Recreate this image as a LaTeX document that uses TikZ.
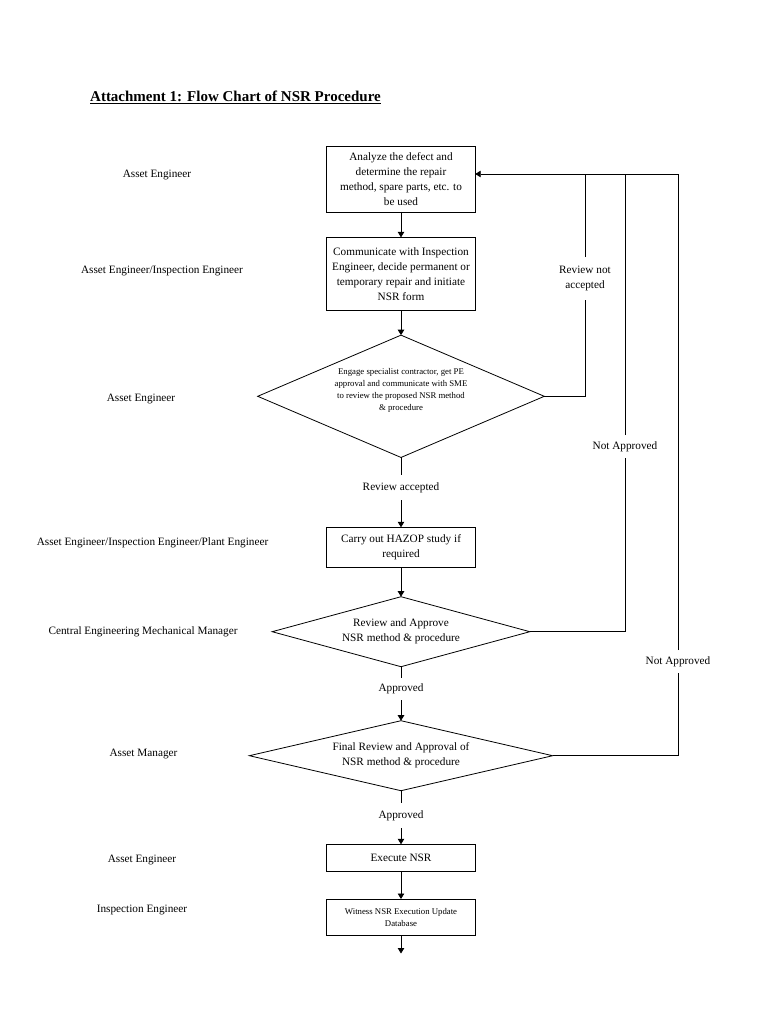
\documentclass[tikz,border=0pt]{standalone}
\usepackage{fontspec}
\setmainfont{Liberation Serif}
\usetikzlibrary{shapes.geometric,arrows.meta}
\begin{document}
\begin{tikzpicture}[x=1pt,y=-1pt,
  every node/.style={inner sep=0pt, outer sep=0pt, font=\fontsize{11.25}{15}\selectfont},
  smalltext/.style={font=\fontsize{8.75}{12}\selectfont},
  procbox/.style={draw, line width=0.8pt, align=center, minimum width=148.4pt},
  decbox/.style={draw, diamond, line width=0.8pt, align=center},
  conn/.style={line width=0.8pt},
  arr/.style={conn, -{Triangle[length=5.5pt,width=6.5pt]}},
  lane/.style={align=center},
  tag/.style={align=center}]
\useasboundingbox (0,0) rectangle (768,1024);

% title
\node[font=\fontsize{15}{18}\selectfont\bfseries, anchor=base] (title) at (235.5,102) {\underline{Attachment 1: Flow Chart of NSR Procedure}};

% lane labels
\node[lane] (l1) at (157,175) {Asset Engineer};
\node[lane] (l2) at (162,271) {Asset Engineer/Inspection Engineer};
\node[lane] (l3) at (141,399) {Asset Engineer};
\node[lane] (l4) at (152.5,543) {Asset Engineer/Inspection Engineer/Plant Engineer};
\node[lane] (l5) at (143,632) {Central Engineering Mechanical Manager};
\node[lane] (l6) at (143.5,754) {Asset Manager};
\node[lane] (l7) at (142,860) {Asset Engineer};
\node[lane] (l8) at (142,910) {Inspection Engineer};

% process steps
\node[procbox, minimum height=66pt] (b1) at (401,179) {Analyze the defect and\\determine the repair\\method, spare parts, etc. to\\be used};
\node[procbox, minimum height=72.7pt] (b2) at (401,273.7) {Communicate with Inspection\\Engineer, decide permanent or\\temporary repair and initiate\\NSR form};
\node[decbox, smalltext, shape aspect=2.343, minimum width=286.6pt, minimum height=122.3pt] (d1) at (401,396.3) {Engage specialist contractor, get PE\\approval and communicate with SME\\to review the proposed NSR method\\\& procedure\\[2pt]\mbox{}};
\node[tag, minimum height=25pt] (ra) at (401,487.5) {Review accepted};
\node[procbox, minimum height=40.4pt] (b3) at (401,547.5) {Carry out HAZOP study if\\required};
\node[decbox, shape aspect=3.681, minimum width=257.7pt, minimum height=70pt] (d2) at (401,631.7) {Review and Approve\\NSR method \& procedure};
\node[tag, minimum height=22pt] (ap1) at (401,689) {Approved};
\node[decbox, shape aspect=4.333, minimum width=303.3pt, minimum height=70pt] (d3) at (401,755.7) {Final Review and Approval of\\NSR method \& procedure};
\node[tag, minimum height=25pt] (ap2) at (401,815.5) {Approved};
\node[procbox, minimum height=27.4pt] (b4) at (401,858) {Execute NSR};
\node[procbox, smalltext, minimum height=36pt] (b5) at (401,917) {Witness NSR Execution Update\\Database};
\coordinate (endpt) at (401,953.5);

% feedback labels
\node[tag, minimum height=43pt] (nra) at (585,278.5) {Review not\\accepted};
\node[tag, minimum height=23pt] (na1) at (625,446.5) {Not Approved};
\node[tag, minimum height=23pt] (na2) at (678,661.5) {Not Approved};
\coordinate (r1) at (585,174);
\coordinate (r2) at (625,174);
\coordinate (r3) at (678,174);

% main flow
\draw[arr] (b1.south) -- (b2.north);
\draw[arr] (b2.south) -- (d1.north);
\draw[conn] (d1.south) -- (ra.north);
\draw[arr] (ra.south) -- (b3.north);
\draw[arr] (b3.south) -- (d2.north);
\draw[conn] (d2.south) -- (ap1.north);
\draw[arr] (ap1.south) -- (d3.north);
\draw[conn] (d3.south) -- (ap2.north);
\draw[arr] (ap2.south) -- (b4.north);
\draw[arr] (b4.south) -- (b5.north);
\draw[arr] (b5.south) -- (endpt);

% feedback loops
\draw[conn] (d1.east) -| (nra.south);
\draw[conn] (nra.north) -- (r1);
\draw[conn] (d2.east) -| (na1.south);
\draw[conn] (na1.north) -- (r2);
\draw[conn] (d3.east) -| (na2.south);
\draw[arr] (na2.north) -- (r3) -- (b1.east |- r3);
\end{tikzpicture}
\end{document}
